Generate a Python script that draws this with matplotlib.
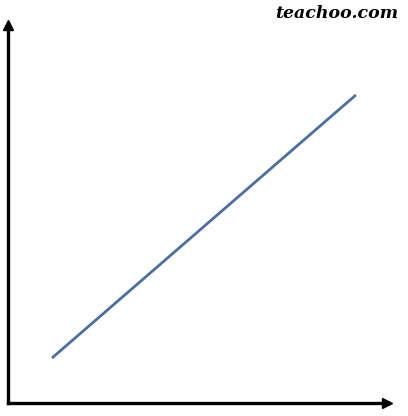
import matplotlib
matplotlib.use("Agg")
import matplotlib.pyplot as plt

# line end points in data units
line_x = [1.16, 9.18]
line_y = [1.19, 8.15]
brand = "teachoo.com"

fig = plt.figure(figsize=(4.08, 4.16), dpi=100)
ax = fig.add_axes([8 / 408, 13 / 416, 379 / 408, 378 / 416])
ax.set_xlim(0, 10)
ax.set_ylim(0, 10)

ax.plot(line_x, line_y, color="#4a6fa5", lw=2.0, solid_capstyle="butt")

for s in ["top", "right"]:
    ax.spines[s].set_visible(False)
for s in ["left", "bottom"]:
    ax.spines[s].set_linewidth(2.4)
    ax.spines[s].set_color("black")
ax.set_xticks([])
ax.set_yticks([])

# arrow heads at the ends of the axes
ax.plot(1, 0, ">", color="black", markersize=7, transform=ax.transAxes, clip_on=False)
ax.plot(0, 1, "^", color="black", markersize=7, transform=ax.transAxes, clip_on=False)

fig.text(337 / 408, 1 - 13 / 416, brand, ha="center", va="center",
         fontsize=12.5, fontweight="bold", fontstyle="italic", family="DejaVu Serif")

fig.savefig("out.png", dpi=100)
